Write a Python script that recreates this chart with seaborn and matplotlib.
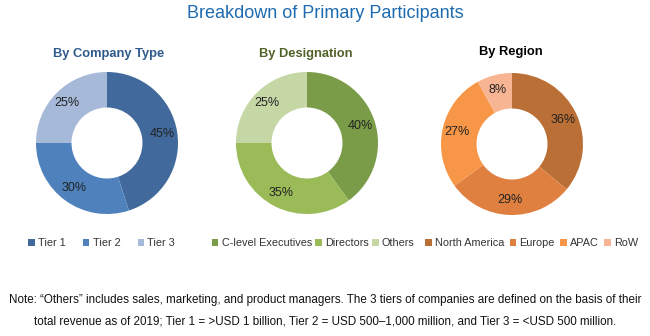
import matplotlib
matplotlib.use("Agg")
import matplotlib.pyplot as plt
import seaborn as sns
from matplotlib.patches import Patch

sns.set_theme(style="white")
plt.rcParams['font.family'] = ['Liberation Sans', 'DejaVu Sans']

# ---- data ----
company_labels = ["Tier 1", "Tier 2", "Tier 3"]
company_values = [45, 30, 25]
designation_labels = ["C-level Executives", "Directors", "Others"]
designation_values = [40, 35, 25]
region_labels = ["North America", "Europe", "APAC", "RoW"]
region_values = [36, 29, 27, 8]

company_colors = sns.color_palette(["#41699b", "#4f81bd", "#a7b9d9"])
designation_colors = sns.color_palette(["#7a9c48", "#9bbb59", "#c4d7a5"])
region_colors = sns.color_palette(["#b96f36", "#df8040", "#f79646", "#f8b594"])

W, H = 650, 336
fig = plt.figure(figsize=(W / 100, H / 100), dpi=100)

narrow = ['Liberation Sans Narrow', 'Liberation Sans', 'DejaVu Sans']

def donut(cx, cy, r, values, colors):
    ax = fig.add_axes([(cx - r) / W, 1 - (cy + r) / H, 2 * r / W, 2 * r / H])
    wedges, texts = ax.pie(values, colors=colors, startangle=90, counterclock=False,
                           labels=[f"{v}%" for v in values], labeldistance=0.79,
                           wedgeprops=dict(width=0.5, linewidth=0),
                           textprops=dict(fontsize=9, color="#222222", ha="center", va="center"))
    for t in texts:
        t.set_horizontalalignment("center")
    ax.set_xlim(-1, 1)
    ax.set_ylim(-1, 1)
    ax.set_aspect("equal")
    ax.axis("off")
    return ax

donut(107, 143, 71, company_values, company_colors)
donut(307, 143, 71, designation_values, designation_colors)
donut(512, 144, 71, region_values, region_colors)

fig.text(0.5, 1 - 14 / H, "Breakdown of Primary Participants", ha="center", va="center",
         fontsize=13, color="#1e6bb0")
fig.text(109 / W, 1 - 54 / H, "By Company Type", ha="center", va="center",
         fontsize=9.3, fontweight="bold", color="#2e5b8c", family=narrow)
fig.text(306 / W, 1 - 54 / H, "By Designation", ha="center", va="center",
         fontsize=9.3, fontweight="bold", color="#4f6228", family=narrow)
fig.text(511 / W, 1 - 52 / H, "By Region", ha="center", va="center",
         fontsize=9.3, fontweight="bold", color="#000000", family=narrow)

def legend(x, labels, colors, spacing):
    handles = [Patch(facecolor=c, edgecolor="none") for c in colors]
    fig.legend(handles, labels, loc="center left", bbox_to_anchor=(x / W, 1 - 243 / H),
               ncol=len(labels), frameon=False, fontsize=7.8, handlelength=0.6,
               handleheight=0.6, handletextpad=0.3, columnspacing=spacing,
               borderpad=0, borderaxespad=0, labelcolor="#333333")

legend(28, company_labels, company_colors, 1.6)
legend(212, designation_labels, designation_colors, 0.3)
legend(425, region_labels, region_colors, 0.5)

fig.text(0.5, 1 - 300 / H,
         "Note: \u201cOthers\u201d includes sales, marketing, and product managers. The 3 tiers of companies are defined on the basis of their",
         ha="center", va="center", fontsize=8.4, color="#111111", family=narrow)
fig.text(0.5, 1 - 321 / H,
         "total revenue as of 2019; Tier 1 = >USD 1 billion, Tier 2 = USD 500\u20131,000 million, and Tier 3 = <USD 500 million.",
         ha="center", va="center", fontsize=8.4, color="#111111", family=narrow)

fig.savefig("out.png", dpi=100, facecolor="white")
